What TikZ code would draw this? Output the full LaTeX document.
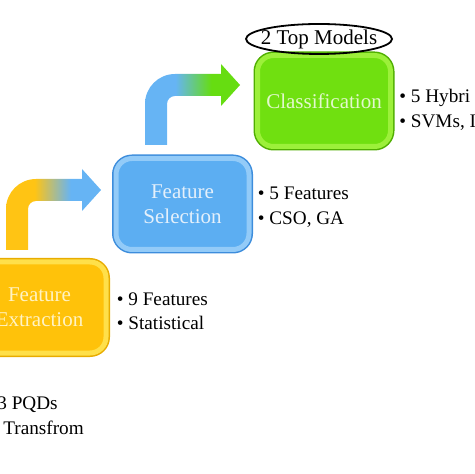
\documentclass[tikz,border=0pt]{standalone}
\usepackage{fontspec}
\setmainfont{Liberation Serif}
\usetikzlibrary{positioning}
\definecolor{yelMain}{HTML}{FFC20A}
\definecolor{yelBevel}{HTML}{FFE04A}
\definecolor{yelEdge}{HTML}{E8AC00}
\definecolor{yelText}{HTML}{FFF3C4}
\definecolor{bluMain}{HTML}{5CAEF2}
\definecolor{bluBevel}{HTML}{93CBF8}
\definecolor{bluEdge}{HTML}{3D8DDC}
\definecolor{bluText}{HTML}{E4F0FB}
\definecolor{grnMain}{HTML}{70E010}
\definecolor{grnBevel}{HTML}{9CF03A}
\definecolor{grnEdge}{HTML}{4FAE00}
\definecolor{grnText}{HTML}{E2F8CC}
\definecolor{arrYel}{HTML}{FFC414}
\definecolor{arrBlu}{HTML}{66B4F4}
\definecolor{arrGrn}{HTML}{66DD11}
\pgfdeclarehorizontalshading{yeltoblu}{100bp}{color(0bp)=(arrYel); color(40bp)=(arrYel); color(59bp)=(arrBlu); color(100bp)=(arrBlu)}
\pgfdeclarehorizontalshading{blutogrn}{100bp}{color(0bp)=(arrBlu); color(41bp)=(arrBlu); color(60bp)=(arrGrn); color(100bp)=(arrGrn)}
\tikzset{
  stage/.style n args={4}{rectangle, rounded corners=8pt, minimum width=66.5pt, minimum height=45.5pt,
    align=center, font=\fontsize{10.5}{12.5}\selectfont, line width=2.5pt,
    fill=#1, draw=#2, preaction={draw=#3, line width=4pt}, text=#4},
  notes/.style={font=\fontsize{9.6}{12.3}\selectfont, align=left, inner sep=0pt}
}

\begin{document}
\begin{tikzpicture}[x=0.5pt, y=-0.5pt]
\useasboundingbox (0,0) rectangle (474,474);
% the three stages
\node[stage={yelMain}{yelBevel}{yelEdge}{yelText}] (ext) at (39.5,307.5) {Feature\\Extraction};
\node[stage={bluMain}{bluBevel}{bluEdge}{bluText}] (sel) at (182.5,204) {Feature\\Selection};
\node[stage={grnMain}{grnBevel}{grnEdge}{grnText}] (cls) at (324,101) {Classification};
% bullet notes
\node[notes, right=4pt of ext, yshift=-1.8pt] (extnote) {\textbullet\ 9 Features\\\textbullet\ Statistical};
\node[notes, right=3pt of sel, yshift=-1.5pt] (selnote) {\textbullet\ 5 Features\\\textbullet\ CSO, GA};
\node[notes, right=3pt of cls, yshift=-4.5pt] (clsnote) {\textbullet\ 5 Hybri\\\textbullet\ SVMs, I};
\node[notes, anchor=west] (innote) at (-3,416) {3 PQDs\\\hspace*{3pt}Transfrom};
% top label
\node[font=\fontsize{10.5}{12}\selectfont, inner sep=0pt] (top) at (319,39) {2 Top Models};
\draw[line width=0.9pt] (top.center) ellipse [x radius=73, y radius=15];
% bent arrows
\shade[shading=yeltoblu] (6,250) -- (6,209) .. controls (6,192.4) and (19.4,179) .. (36,179)
  -- (82,179) -- (82,169) -- (101,190) -- (82,211) -- (82,201) -- (36,201)
  .. controls (31.6,201) and (28,204.6) .. (28,209) -- (28,250) -- cycle;
\shade[shading=blutogrn, shift={(139,-105)}] (6,250) -- (6,209) .. controls (6,192.4) and (19.4,179) .. (36,179)
  -- (82,179) -- (82,169) -- (101,190) -- (82,211) -- (82,201) -- (36,201)
  .. controls (31.6,201) and (28,204.6) .. (28,209) -- (28,250) -- cycle;
\end{tikzpicture}
\end{document}
